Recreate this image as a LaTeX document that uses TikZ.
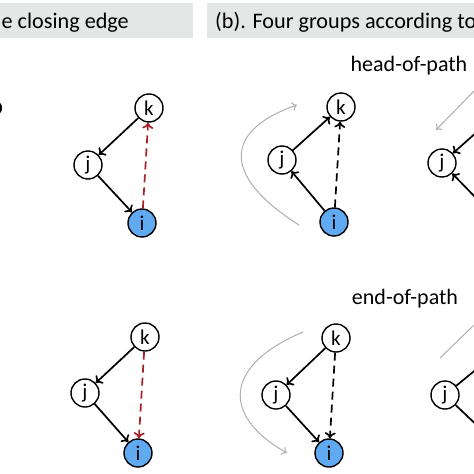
\documentclass[tikz,border=0pt]{standalone}
\usepackage{fontspec}
\setmainfont{Carlito}
\usetikzlibrary{positioning,arrows.meta}

\definecolor{barGray}{RGB}{229,231,230}
\definecolor{nodeBlue}{RGB}{95,170,240}
\definecolor{closeRed}{RGB}{165,30,40}
\definecolor{pathGray}{RGB}{175,175,175}

\tikzset{
  vert/.style={circle, draw, line width=1.4pt, minimum size=28pt, inner sep=0pt, font=\fontsize{21}{21}\selectfont},
  start/.style={vert, fill=nodeBlue},
  edge/.style={-{To[length=6pt,width=11pt]}, line width=1.7pt},
  closing/.style={edge, dash pattern=on 8pt off 5pt},
  sweep/.style={-{To[length=5pt,width=9pt]}, line width=1pt, pathGray}
}

\begin{document}
\begin{tikzpicture}[x=1pt, y=-1pt]
  \useasboundingbox (0,0) rectangle (474,474);
  \clip (0,0) rectangle (474,474);

  % title bars
  \fill[barGray] (0,3) rectangle (193,38);
  \fill[barGray] (207,3) rectangle (480,38);
  \node[anchor=base east, inner sep=0pt, font=\fontsize{22.2}{22.2}\selectfont] (tleft) at (129,28) {e closing edge};
  \node[anchor=base west, inner sep=0pt, font=\fontsize{22.2}{22.2}\selectfont] (tright) at (215,28) {(b). Four groups according to};

  % left rim
  \fill (-2,108) ellipse (4 and 6);

  % (a) top: closing edge i -> k
  \node[vert] (ka) at (149,108) {k};
  \node[vert] (ja) at (88,165) {j};
  \node[start] (ia) at (142,223) {i};
  \draw[edge] (ka) -- (ja);
  \draw[edge] (ja) -- (ia);
  \draw[closing, closeRed] (ia) -- (ka);

  % (a) bottom: closing edge k -> i
  \node[vert] (kb) at (145,337) {k};
  \node[vert] (jb) at (85,393) {j};
  \node[start] (ib) at (138,453) {i};
  \draw[edge] (kb) -- (jb);
  \draw[edge] (jb) -- (ib);
  \draw[closing, closeRed] (kb) -- (ib);

  % (b) head-of-path
  \node[font=\fontsize{22}{22}\selectfont] (head) at (409,66) {head-of-path};
  \node[vert] (kc) at (341,107) {k};
  \node[vert] (jc) at (282,160) {j};
  \node[start] (ic) at (334,222) {i};
  \draw[edge] (jc) -- (kc);
  \draw[edge] (ic) -- (jc);
  \draw[closing] (ic) -- (kc);
  \coordinate (sc1) at (299,225);
  \coordinate (sc2) at (297,105);
  \draw[sweep] (sc1) .. controls (220,175) and (225,130) .. (sc2);

  \node[vert] (jd) at (442,163) {j};
  \coordinate (jdU) at (478,131);
  \coordinate (jdL) at (478,200);
  \draw[edge] (jdU) -- (jd);
  \draw[edge] (jdL) -- (jd);
  \coordinate (sd1) at (476,89);
  \coordinate (sd2) at (436,130);
  \draw[sweep] (sd1) -- (sd2);

  % (b) end-of-path
  \node[font=\fontsize{22}{22}\selectfont] (tail) at (405,299) {end-of-path};
  \node[vert] (ke) at (336,338) {k};
  \node[vert] (je) at (276,395) {j};
  \node[start] (ie) at (329,453) {i};
  \draw[edge] (ke) -- (je);
  \draw[edge] (je) -- (ie);
  \draw[closing] (ke) -- (ie);
  \coordinate (se1) at (303,332);
  \coordinate (se2) at (287,453);
  \draw[sweep] (se1) .. controls (225,365) and (220,415) .. (se2);

  \node[vert] (jf) at (445,395) {j};
  \coordinate (jfU) at (484,363);
  \coordinate (jfL) at (484,432);
  \draw[edge] (jf) -- (jfU);
  \draw[edge] (jf) -- (jfL);
  \coordinate (sf1) at (474,325);
  \coordinate (sf2) at (440,358);
  \draw[line width=1pt, pathGray] (sf1) -- (sf2);
\end{tikzpicture}
\end{document}
